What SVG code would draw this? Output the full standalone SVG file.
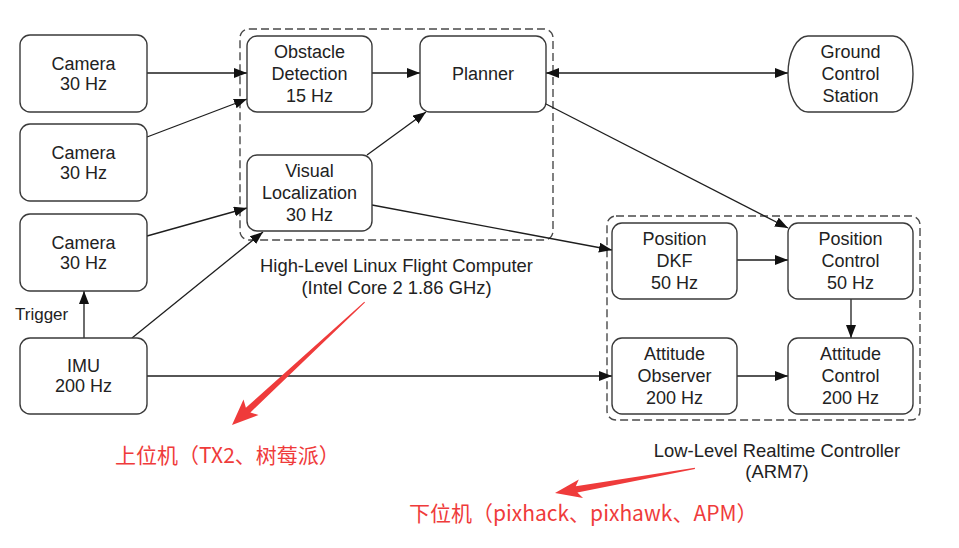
<svg xmlns="http://www.w3.org/2000/svg" width="959" height="548" viewBox="0 0 959 548">
<defs>
<style>
.box{fill:#fff;stroke:#3a3a3a;stroke-width:1.4}
.grp{fill:none;stroke:#4a4a4a;stroke-width:1.4;stroke-dasharray:8 4}
.t{font-family:"Liberation Sans",Arial,Helvetica,sans-serif;font-size:18px;fill:#222;text-anchor:middle}
.g{font-size:18.4px}
.lbl{font-family:"Liberation Sans",Arial,Helvetica,sans-serif;font-size:17px;fill:#222}
.red{font-family:"Microsoft YaHei","Noto Sans CJK SC",sans-serif;font-size:21px;fill:#ef3b3b}
.c{fill:none;stroke:#1e1e1e;stroke-width:1.3}
</style>
<marker id="ah" markerUnits="userSpaceOnUse" markerWidth="14" markerHeight="12" refX="13" refY="5" orient="auto">
<path d="M0,0 L13,5 L0,10 Z" fill="#111"/>
</marker>
<marker id="ahs" markerUnits="userSpaceOnUse" markerWidth="14" markerHeight="12" refX="0" refY="5" orient="auto">
<path d="M13,0 L0,5 L13,10 Z" fill="#111"/>
</marker>
</defs>
<rect width="959" height="548" fill="#fff"/>

<g id="groups">
<rect class="grp" x="240" y="29" width="313" height="211" rx="9"/>
<rect class="grp" x="607" y="216" width="313" height="204" rx="9"/>
<text class="t g" x="396.5" y="272">High-Level Linux Flight Computer</text>
<text class="t g" x="396.5" y="294">(Intel Core 2 1.86 GHz)</text>
<text class="t g" x="777" y="457">Low-Level Realtime Controller</text>
<text class="t g" x="777" y="478">(ARM7)</text>
</g>

<g id="connectors">
<line class="c" x1="147" y1="73" x2="247" y2="73" marker-end="url(#ah)"/>
<line class="c" x1="147" y1="137" x2="247" y2="99" marker-end="url(#ah)"/>
<line class="c" x1="147" y1="236" x2="247" y2="208" marker-end="url(#ah)"/>
<line class="c" x1="132" y1="338" x2="263" y2="232" marker-end="url(#ah)"/>
<line class="c" x1="84" y1="338" x2="84" y2="291" marker-end="url(#ah)"/>
<line class="c" x1="147" y1="376" x2="612" y2="376" marker-end="url(#ah)"/>
<line class="c" x1="372" y1="73" x2="420" y2="73" marker-end="url(#ah)"/>
<line class="c" x1="367" y1="155" x2="426" y2="112" marker-end="url(#ah)"/>
<line class="c" x1="372" y1="205" x2="612" y2="250" marker-end="url(#ah)"/>
<line class="c" x1="546" y1="73" x2="788" y2="73" marker-start="url(#ahs)" marker-end="url(#ah)"/>
<line class="c" x1="546" y1="104" x2="788" y2="228" marker-end="url(#ah)"/>
<line class="c" x1="737" y1="260" x2="788" y2="260" marker-end="url(#ah)"/>
<line class="c" x1="851" y1="299" x2="851" y2="338" marker-end="url(#ah)"/>
<line class="c" x1="737" y1="376" x2="788" y2="376" marker-end="url(#ah)"/>
<text class="lbl" x="15" y="320">Trigger</text>
</g>

<g id="camera1"><rect class="box" x="20" y="35" width="127" height="77" rx="10"/>
<text class="t" x="83.5" y="70">Camera</text><text class="t" x="83.5" y="90">30 Hz</text></g>
<g id="camera2"><rect class="box" x="20" y="124" width="127" height="77" rx="10"/>
<text class="t" x="83.5" y="159">Camera</text><text class="t" x="83.5" y="179">30 Hz</text></g>
<g id="camera3"><rect class="box" x="20" y="214" width="127" height="77" rx="10"/>
<text class="t" x="83.5" y="248.5">Camera</text><text class="t" x="83.5" y="268.5">30 Hz</text></g>
<g id="imu"><rect class="box" x="20" y="338" width="127" height="76" rx="10"/>
<text class="t" x="83.5" y="372">IMU</text><text class="t" x="83.5" y="392">200 Hz</text></g>

<g id="obstacle"><rect class="box" x="247" y="36" width="125" height="76" rx="10"/>
<text class="t" x="309.5" y="57.5">Obstacle</text><text class="t" x="309.5" y="79.5">Detection</text><text class="t" x="309.5" y="101.5">15 Hz</text></g>
<g id="planner"><rect class="box" x="420" y="36" width="126" height="76" rx="10"/>
<text class="t" x="483" y="80">Planner</text></g>
<g id="visloc"><rect class="box" x="247" y="155" width="125" height="76" rx="10"/>
<text class="t" x="309.5" y="176.5">Visual</text><text class="t" x="309.5" y="198.5">Localization</text><text class="t" x="309.5" y="220.5">30 Hz</text></g>
<g id="gcs"><rect class="box" x="788" y="36" width="125" height="76" rx="20" ry="38"/>
<text class="t" x="850.5" y="57.5">Ground</text><text class="t" x="850.5" y="79.5">Control</text><text class="t" x="850.5" y="101.5">Station</text></g>

<g id="dkf"><rect class="box" x="612" y="223" width="125" height="76" rx="10"/>
<text class="t" x="674.5" y="244.5">Position</text><text class="t" x="674.5" y="266.5">DKF</text><text class="t" x="674.5" y="288.5">50 Hz</text></g>
<g id="posctrl"><rect class="box" x="788" y="223" width="125" height="76" rx="10"/>
<text class="t" x="850.5" y="244.5">Position</text><text class="t" x="850.5" y="266.5">Control</text><text class="t" x="850.5" y="288.5">50 Hz</text></g>
<g id="attobs"><rect class="box" x="612" y="338" width="125" height="76" rx="10"/>
<text class="t" x="674.5" y="359.5">Attitude</text><text class="t" x="674.5" y="381.5">Observer</text><text class="t" x="674.5" y="403.5">200 Hz</text></g>
<g id="attctrl"><rect class="box" x="788" y="338" width="125" height="76" rx="10"/>
<text class="t" x="850.5" y="359.5">Attitude</text><text class="t" x="850.5" y="381.5">Control</text><text class="t" x="850.5" y="403.5">200 Hz</text></g>

<g id="annotations">
<polygon fill="#ef3b3b" points="365,302.5 250.4,412.5 258.5,415 232,425 243.5,399.5 245.9,407.8 364.3,301.8"/>
<polygon fill="#ef3b3b" points="695,469 577.4,492.6 583,498 555,493 578.8,479.4 575.8,486.2 694.8,467.8"/>
<text class="red" x="115" y="463">上位机（TX2、树莓派）</text>
<text class="red" x="409" y="521">下位机（pixhack、pixhawk、APM）</text>
</g>
</svg>
